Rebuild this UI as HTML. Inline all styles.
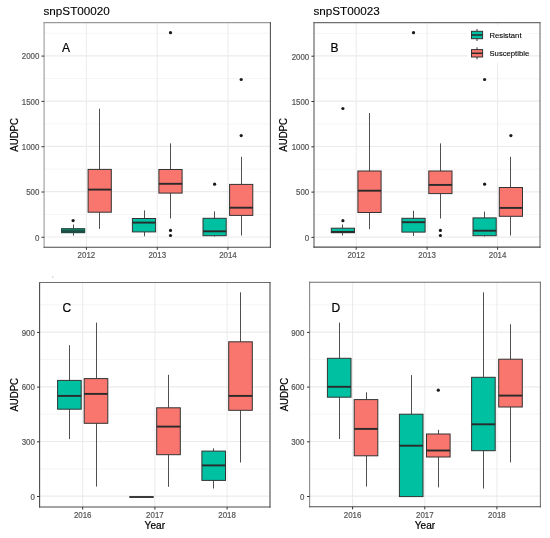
<!DOCTYPE html><html><head><meta charset="utf-8"><title>AUDPC boxplots</title><style>html,body{margin:0;padding:0;background:#fff;}svg{display:block;font-family:"Liberation Sans",Arial,sans-serif;}</style></head><body>
<svg width="550" height="538" viewBox="0 0 550 538">
<rect x="0" y="0" width="550" height="538" fill="#fff"/>
<g>
<line x1="44.1" y1="214.45" x2="270.4" y2="214.45" stroke="#f4f4f4" stroke-width="0.9"/>
<line x1="44.1" y1="169.15" x2="270.4" y2="169.15" stroke="#f4f4f4" stroke-width="0.9"/>
<line x1="44.1" y1="123.85" x2="270.4" y2="123.85" stroke="#f4f4f4" stroke-width="0.9"/>
<line x1="44.1" y1="78.55" x2="270.4" y2="78.55" stroke="#f4f4f4" stroke-width="0.9"/>
<line x1="44.1" y1="33.25" x2="270.4" y2="33.25" stroke="#f4f4f4" stroke-width="0.9"/>
<line x1="44.1" y1="237" x2="270.4" y2="237" stroke="#ebebeb" stroke-width="1.2"/>
<line x1="44.1" y1="191.7" x2="270.4" y2="191.7" stroke="#ebebeb" stroke-width="1.2"/>
<line x1="44.1" y1="146.4" x2="270.4" y2="146.4" stroke="#ebebeb" stroke-width="1.2"/>
<line x1="44.1" y1="101.1" x2="270.4" y2="101.1" stroke="#ebebeb" stroke-width="1.2"/>
<line x1="44.1" y1="55.8" x2="270.4" y2="55.8" stroke="#ebebeb" stroke-width="1.2"/>
<line x1="86.4" y1="22.6" x2="86.4" y2="247.2" stroke="#ebebeb" stroke-width="1"/>
<line x1="157.25" y1="22.6" x2="157.25" y2="247.2" stroke="#ebebeb" stroke-width="1"/>
<line x1="227.95" y1="22.6" x2="227.95" y2="247.2" stroke="#ebebeb" stroke-width="1"/>
<line x1="73.5" y1="224.5" x2="73.5" y2="228.6" stroke="#505050" stroke-width="1"/>
<line x1="73.5" y1="232.7" x2="73.5" y2="235.6" stroke="#505050" stroke-width="1"/>
<rect x="61" y="228.1" width="24.2" height="5.1" fill="#1e4c42"/>
<rect x="61.8" y="229" width="22.6" height="1.3" fill="#13775d"/>
<circle cx="73.1" cy="220.6" r="1.6" fill="#1a1a1a"/>
<line x1="99.5" y1="108.7" x2="99.5" y2="169.4" stroke="#505050" stroke-width="1"/>
<line x1="99.5" y1="212.2" x2="99.5" y2="228.9" stroke="#505050" stroke-width="1"/>
<rect x="88.1" y="169.4" width="23.2" height="42.8" fill="#f8766d" stroke="#333333" stroke-width="1"/>
<line x1="88.1" y1="189.6" x2="111.3" y2="189.6" stroke="#2a2a2a" stroke-width="1.9"/>
<line x1="144.5" y1="210.4" x2="144.5" y2="218.5" stroke="#505050" stroke-width="1"/>
<line x1="144.5" y1="231.9" x2="144.5" y2="236.3" stroke="#505050" stroke-width="1"/>
<rect x="132.4" y="218.5" width="23.2" height="13.4" fill="#00c0a2" stroke="#333333" stroke-width="1"/>
<line x1="132.4" y1="222.6" x2="155.6" y2="222.6" stroke="#2a2a2a" stroke-width="1.9"/>
<line x1="170.5" y1="143.4" x2="170.5" y2="169.5" stroke="#505050" stroke-width="1"/>
<line x1="170.5" y1="193.1" x2="170.5" y2="218.5" stroke="#505050" stroke-width="1"/>
<rect x="158.9" y="169.5" width="23.2" height="23.6" fill="#f8766d" stroke="#333333" stroke-width="1"/>
<line x1="158.9" y1="183.8" x2="182.1" y2="183.8" stroke="#2a2a2a" stroke-width="1.9"/>
<circle cx="170.5" cy="230.4" r="1.6" fill="#1a1a1a"/>
<circle cx="170.5" cy="235.5" r="1.6" fill="#1a1a1a"/>
<circle cx="170.5" cy="32.7" r="1.6" fill="#1a1a1a"/>
<line x1="214.5" y1="211.4" x2="214.5" y2="218.3" stroke="#505050" stroke-width="1"/>
<line x1="214.5" y1="235.7" x2="214.5" y2="236.6" stroke="#505050" stroke-width="1"/>
<rect x="203" y="218.3" width="23.2" height="17.4" fill="#00c0a2" stroke="#333333" stroke-width="1"/>
<line x1="203" y1="231.3" x2="226.2" y2="231.3" stroke="#2a2a2a" stroke-width="1.9"/>
<circle cx="214.6" cy="184.2" r="1.6" fill="#1a1a1a"/>
<line x1="241.5" y1="156.8" x2="241.5" y2="184.4" stroke="#505050" stroke-width="1"/>
<line x1="241.5" y1="215.4" x2="241.5" y2="235.5" stroke="#505050" stroke-width="1"/>
<rect x="229.6" y="184.4" width="23.2" height="31" fill="#f8766d" stroke="#333333" stroke-width="1"/>
<line x1="229.6" y1="207.7" x2="252.8" y2="207.7" stroke="#2a2a2a" stroke-width="1.9"/>
<circle cx="241.2" cy="135.6" r="1.6" fill="#1a1a1a"/>
<circle cx="241.2" cy="79.5" r="1.6" fill="#1a1a1a"/>
<line x1="44.1" y1="22.05" x2="44.1" y2="247.75" stroke="#9a9a9a" stroke-width="1.1"/>
<line x1="43.55" y1="22.6" x2="270.95" y2="22.6" stroke="#9a9a9a" stroke-width="1.1"/>
<line x1="270.4" y1="22.05" x2="270.4" y2="247.75" stroke="#555555" stroke-width="1.1"/>
<line x1="43.55" y1="247.2" x2="270.95" y2="247.2" stroke="#4a4a4a" stroke-width="1.1"/>
<line x1="41.5" y1="237.3" x2="44.1" y2="237.3" stroke="#333333" stroke-width="1"/>
<text transform="translate(39.4,240.64) scale(1,1.1)" font-size="7.9" fill="#555555" text-anchor="end" stroke="#555555" stroke-width="0.18">0</text>
<line x1="41.5" y1="192" x2="44.1" y2="192" stroke="#333333" stroke-width="1"/>
<text transform="translate(39.4,195.34) scale(1,1.1)" font-size="7.9" fill="#555555" text-anchor="end" stroke="#555555" stroke-width="0.18">500</text>
<line x1="41.5" y1="146.7" x2="44.1" y2="146.7" stroke="#333333" stroke-width="1"/>
<text transform="translate(39.4,150.04) scale(1,1.1)" font-size="7.9" fill="#555555" text-anchor="end" stroke="#555555" stroke-width="0.18">1000</text>
<line x1="41.5" y1="101.4" x2="44.1" y2="101.4" stroke="#333333" stroke-width="1"/>
<text transform="translate(39.4,104.74) scale(1,1.1)" font-size="7.9" fill="#555555" text-anchor="end" stroke="#555555" stroke-width="0.18">1500</text>
<line x1="41.5" y1="56.1" x2="44.1" y2="56.1" stroke="#333333" stroke-width="1"/>
<text transform="translate(39.4,59.44) scale(1,1.1)" font-size="7.9" fill="#555555" text-anchor="end" stroke="#555555" stroke-width="0.18">2000</text>
<line x1="86.4" y1="247.2" x2="86.4" y2="249.8" stroke="#333333" stroke-width="1"/>
<text transform="translate(86.4,258.1) scale(1,1.1)" font-size="7.9" fill="#555555" text-anchor="middle" stroke="#555555" stroke-width="0.18">2012</text>
<line x1="157.25" y1="247.2" x2="157.25" y2="249.8" stroke="#333333" stroke-width="1"/>
<text transform="translate(157.25,258.1) scale(1,1.1)" font-size="7.9" fill="#555555" text-anchor="middle" stroke="#555555" stroke-width="0.18">2013</text>
<line x1="227.95" y1="247.2" x2="227.95" y2="249.8" stroke="#333333" stroke-width="1"/>
<text transform="translate(227.95,258.1) scale(1,1.1)" font-size="7.9" fill="#555555" text-anchor="middle" stroke="#555555" stroke-width="0.18">2014</text>
<text transform="translate(17.5,134.9) rotate(-90) scale(1,1.05)" font-size="9.6" fill="#000" text-anchor="middle" stroke="#000" stroke-width="0.2">AUDPC</text>
<text transform="translate(43.5,15.2)" font-size="11.7" fill="#000" stroke="#000" stroke-width="0.12">snpST00020</text>
<text transform="translate(62,52)" font-size="12" fill="#000" stroke="#000" stroke-width="0.2">A</text>
</g>
<g>
<line x1="314" y1="214.55" x2="540" y2="214.55" stroke="#f4f4f4" stroke-width="0.9"/>
<line x1="314" y1="169.25" x2="540" y2="169.25" stroke="#f4f4f4" stroke-width="0.9"/>
<line x1="314" y1="123.95" x2="540" y2="123.95" stroke="#f4f4f4" stroke-width="0.9"/>
<line x1="314" y1="78.65" x2="540" y2="78.65" stroke="#f4f4f4" stroke-width="0.9"/>
<line x1="314" y1="33.35" x2="540" y2="33.35" stroke="#f4f4f4" stroke-width="0.9"/>
<line x1="314" y1="237.1" x2="540" y2="237.1" stroke="#ebebeb" stroke-width="1.2"/>
<line x1="314" y1="191.8" x2="540" y2="191.8" stroke="#ebebeb" stroke-width="1.2"/>
<line x1="314" y1="146.5" x2="540" y2="146.5" stroke="#ebebeb" stroke-width="1.2"/>
<line x1="314" y1="101.2" x2="540" y2="101.2" stroke="#ebebeb" stroke-width="1.2"/>
<line x1="314" y1="55.9" x2="540" y2="55.9" stroke="#ebebeb" stroke-width="1.2"/>
<line x1="356.2" y1="22.6" x2="356.2" y2="247.1" stroke="#ebebeb" stroke-width="1"/>
<line x1="427.1" y1="22.6" x2="427.1" y2="247.1" stroke="#ebebeb" stroke-width="1"/>
<line x1="497.6" y1="22.6" x2="497.6" y2="247.1" stroke="#ebebeb" stroke-width="1"/>
<rect x="467.5" y="25.5" width="60" height="37" fill="#fff"/>
<line x1="342.5" y1="224.5" x2="342.5" y2="228.2" stroke="#505050" stroke-width="1"/>
<line x1="342.5" y1="232.7" x2="342.5" y2="235.5" stroke="#505050" stroke-width="1"/>
<rect x="331.3" y="228.2" width="23.2" height="4.5" fill="#00c0a2" stroke="#333333" stroke-width="1"/>
<line x1="331.3" y1="231.9" x2="354.5" y2="231.9" stroke="#2a2a2a" stroke-width="1.9"/>
<circle cx="342.9" cy="220.7" r="1.6" fill="#1a1a1a"/>
<circle cx="342.9" cy="108.5" r="1.6" fill="#1a1a1a"/>
<line x1="369.5" y1="113" x2="369.5" y2="171" stroke="#505050" stroke-width="1"/>
<line x1="369.5" y1="212.5" x2="369.5" y2="229.2" stroke="#505050" stroke-width="1"/>
<rect x="357.9" y="171" width="23.2" height="41.5" fill="#f8766d" stroke="#333333" stroke-width="1"/>
<line x1="357.9" y1="190.7" x2="381.1" y2="190.7" stroke="#2a2a2a" stroke-width="1.9"/>
<line x1="413.5" y1="210.7" x2="413.5" y2="218.3" stroke="#505050" stroke-width="1"/>
<line x1="413.5" y1="232.1" x2="413.5" y2="236" stroke="#505050" stroke-width="1"/>
<rect x="401.9" y="218.3" width="23.2" height="13.8" fill="#00c0a2" stroke="#333333" stroke-width="1"/>
<line x1="401.9" y1="222.2" x2="425.1" y2="222.2" stroke="#2a2a2a" stroke-width="1.9"/>
<circle cx="413.5" cy="32.7" r="1.6" fill="#1a1a1a"/>
<line x1="440.5" y1="143.4" x2="440.5" y2="171" stroke="#505050" stroke-width="1"/>
<line x1="440.5" y1="193.6" x2="440.5" y2="218.5" stroke="#505050" stroke-width="1"/>
<rect x="428.8" y="171" width="23.2" height="22.6" fill="#f8766d" stroke="#333333" stroke-width="1"/>
<line x1="428.8" y1="184.9" x2="452" y2="184.9" stroke="#2a2a2a" stroke-width="1.9"/>
<circle cx="440.4" cy="230.4" r="1.6" fill="#1a1a1a"/>
<circle cx="440.4" cy="235.5" r="1.6" fill="#1a1a1a"/>
<line x1="484.5" y1="211.6" x2="484.5" y2="217.9" stroke="#505050" stroke-width="1"/>
<line x1="484.5" y1="235.7" x2="484.5" y2="236.5" stroke="#505050" stroke-width="1"/>
<rect x="473" y="217.9" width="23.2" height="17.8" fill="#00c0a2" stroke="#333333" stroke-width="1"/>
<line x1="473" y1="230.7" x2="496.2" y2="230.7" stroke="#2a2a2a" stroke-width="1.9"/>
<circle cx="484.6" cy="184.2" r="1.6" fill="#1a1a1a"/>
<circle cx="484.6" cy="79.5" r="1.6" fill="#1a1a1a"/>
<line x1="510.5" y1="156.8" x2="510.5" y2="187.5" stroke="#505050" stroke-width="1"/>
<line x1="510.5" y1="216.3" x2="510.5" y2="235.5" stroke="#505050" stroke-width="1"/>
<rect x="499.3" y="187.5" width="23.2" height="28.8" fill="#f8766d" stroke="#333333" stroke-width="1"/>
<line x1="499.3" y1="207.9" x2="522.5" y2="207.9" stroke="#2a2a2a" stroke-width="1.9"/>
<circle cx="510.9" cy="135.6" r="1.6" fill="#1a1a1a"/>
<line x1="314" y1="22.05" x2="314" y2="247.65" stroke="#5a5a5a" stroke-width="1.1"/>
<line x1="313.45" y1="22.6" x2="540.55" y2="22.6" stroke="#6e6e6e" stroke-width="1.1"/>
<line x1="540" y1="22.05" x2="540" y2="247.65" stroke="#6e6e6e" stroke-width="1.1"/>
<line x1="313.45" y1="247.1" x2="540.55" y2="247.1" stroke="#4a4a4a" stroke-width="1.1"/>
<line x1="311.4" y1="237.4" x2="314" y2="237.4" stroke="#333333" stroke-width="1"/>
<text transform="translate(309.2,240.74) scale(1,1.1)" font-size="7.9" fill="#555555" text-anchor="end" stroke="#555555" stroke-width="0.18">0</text>
<line x1="311.4" y1="192.1" x2="314" y2="192.1" stroke="#333333" stroke-width="1"/>
<text transform="translate(309.2,195.44) scale(1,1.1)" font-size="7.9" fill="#555555" text-anchor="end" stroke="#555555" stroke-width="0.18">500</text>
<line x1="311.4" y1="146.8" x2="314" y2="146.8" stroke="#333333" stroke-width="1"/>
<text transform="translate(309.2,150.14) scale(1,1.1)" font-size="7.9" fill="#555555" text-anchor="end" stroke="#555555" stroke-width="0.18">1000</text>
<line x1="311.4" y1="101.5" x2="314" y2="101.5" stroke="#333333" stroke-width="1"/>
<text transform="translate(309.2,104.84) scale(1,1.1)" font-size="7.9" fill="#555555" text-anchor="end" stroke="#555555" stroke-width="0.18">1500</text>
<line x1="311.4" y1="56.2" x2="314" y2="56.2" stroke="#333333" stroke-width="1"/>
<text transform="translate(309.2,59.54) scale(1,1.1)" font-size="7.9" fill="#555555" text-anchor="end" stroke="#555555" stroke-width="0.18">2000</text>
<line x1="356.2" y1="247.1" x2="356.2" y2="249.7" stroke="#333333" stroke-width="1"/>
<text transform="translate(356.2,258) scale(1,1.1)" font-size="7.9" fill="#555555" text-anchor="middle" stroke="#555555" stroke-width="0.18">2012</text>
<line x1="427.1" y1="247.1" x2="427.1" y2="249.7" stroke="#333333" stroke-width="1"/>
<text transform="translate(427.1,258) scale(1,1.1)" font-size="7.9" fill="#555555" text-anchor="middle" stroke="#555555" stroke-width="0.18">2013</text>
<line x1="497.6" y1="247.1" x2="497.6" y2="249.7" stroke="#333333" stroke-width="1"/>
<text transform="translate(497.6,258) scale(1,1.1)" font-size="7.9" fill="#555555" text-anchor="middle" stroke="#555555" stroke-width="0.18">2014</text>
<text transform="translate(287.4,134.85) rotate(-90) scale(1,1.05)" font-size="9.6" fill="#000" text-anchor="middle" stroke="#000" stroke-width="0.2">AUDPC</text>
<text transform="translate(313.4,15.2)" font-size="11.7" fill="#000" stroke="#000" stroke-width="0.12">snpST00023</text>
<text transform="translate(330.5,52.4)" font-size="12" fill="#000" stroke="#000" stroke-width="0.2">B</text>
<line x1="477" y1="29" x2="477" y2="41" stroke="#333333" stroke-width="1"/>
<rect x="471.5" y="31.3" width="11.1" height="7.4" fill="#00c0a2" stroke="#333333" stroke-width="1"/>
<line x1="471.5" y1="35" x2="482.6" y2="35" stroke="#2a2a2a" stroke-width="1.5"/>
<text transform="translate(489.5,37.9) scale(1,1.05)" font-size="7.7" fill="#000" stroke="#000" stroke-width="0.1">Resistant</text>
<line x1="477" y1="47.3" x2="477" y2="59.3" stroke="#333333" stroke-width="1"/>
<rect x="471.5" y="49.6" width="11.1" height="7.4" fill="#f8766d" stroke="#333333" stroke-width="1"/>
<line x1="471.5" y1="53.3" x2="482.6" y2="53.3" stroke="#2a2a2a" stroke-width="1.5"/>
<text transform="translate(489.5,56.2) scale(1,1.05)" font-size="7.7" fill="#000" stroke="#000" stroke-width="0.1">Susceptible</text>
</g>
<g>
<line x1="39.6" y1="468.95" x2="270" y2="468.95" stroke="#f4f4f4" stroke-width="0.9"/>
<line x1="39.6" y1="414.25" x2="270" y2="414.25" stroke="#f4f4f4" stroke-width="0.9"/>
<line x1="39.6" y1="359.55" x2="270" y2="359.55" stroke="#f4f4f4" stroke-width="0.9"/>
<line x1="39.6" y1="304.85" x2="270" y2="304.85" stroke="#f4f4f4" stroke-width="0.9"/>
<line x1="39.6" y1="496.2" x2="270" y2="496.2" stroke="#ebebeb" stroke-width="1.2"/>
<line x1="39.6" y1="441.5" x2="270" y2="441.5" stroke="#ebebeb" stroke-width="1.2"/>
<line x1="39.6" y1="386.8" x2="270" y2="386.8" stroke="#ebebeb" stroke-width="1.2"/>
<line x1="39.6" y1="332.1" x2="270" y2="332.1" stroke="#ebebeb" stroke-width="1.2"/>
<line x1="82.7" y1="282.5" x2="82.7" y2="507" stroke="#ebebeb" stroke-width="1"/>
<line x1="154.9" y1="282.5" x2="154.9" y2="507" stroke="#ebebeb" stroke-width="1"/>
<line x1="227.1" y1="282.5" x2="227.1" y2="507" stroke="#ebebeb" stroke-width="1"/>
<line x1="69.5" y1="345.2" x2="69.5" y2="380.4" stroke="#505050" stroke-width="1"/>
<line x1="69.5" y1="409.2" x2="69.5" y2="439.1" stroke="#505050" stroke-width="1"/>
<rect x="57.6" y="380.4" width="23.6" height="28.8" fill="#00c0a2" stroke="#333333" stroke-width="1"/>
<line x1="57.6" y1="395.9" x2="81.2" y2="395.9" stroke="#2a2a2a" stroke-width="1.9"/>
<line x1="96.5" y1="322.6" x2="96.5" y2="378.6" stroke="#505050" stroke-width="1"/>
<line x1="96.5" y1="423.3" x2="96.5" y2="486.6" stroke="#505050" stroke-width="1"/>
<rect x="84.2" y="378.6" width="23.6" height="44.7" fill="#f8766d" stroke="#333333" stroke-width="1"/>
<line x1="84.2" y1="393.9" x2="107.8" y2="393.9" stroke="#2a2a2a" stroke-width="1.9"/>
<line x1="129.3" y1="497" x2="153.7" y2="497" stroke="#3a3a3a" stroke-width="2"/>
<line x1="168.5" y1="374.8" x2="168.5" y2="407.8" stroke="#505050" stroke-width="1"/>
<line x1="168.5" y1="454.7" x2="168.5" y2="486.8" stroke="#505050" stroke-width="1"/>
<rect x="156.7" y="407.8" width="23.6" height="46.9" fill="#f8766d" stroke="#333333" stroke-width="1"/>
<line x1="156.7" y1="426.6" x2="180.3" y2="426.6" stroke="#2a2a2a" stroke-width="1.9"/>
<line x1="213.5" y1="448.3" x2="213.5" y2="451.1" stroke="#505050" stroke-width="1"/>
<line x1="213.5" y1="480.4" x2="213.5" y2="488.5" stroke="#505050" stroke-width="1"/>
<rect x="201.9" y="451.1" width="23.6" height="29.3" fill="#00c0a2" stroke="#333333" stroke-width="1"/>
<line x1="201.9" y1="465.4" x2="225.5" y2="465.4" stroke="#2a2a2a" stroke-width="1.9"/>
<line x1="240.5" y1="292.3" x2="240.5" y2="341.8" stroke="#505050" stroke-width="1"/>
<line x1="240.5" y1="410.3" x2="240.5" y2="462.5" stroke="#505050" stroke-width="1"/>
<rect x="228.7" y="341.8" width="23.6" height="68.5" fill="#f8766d" stroke="#333333" stroke-width="1"/>
<line x1="228.7" y1="395.9" x2="252.3" y2="395.9" stroke="#2a2a2a" stroke-width="1.9"/>
<line x1="39.6" y1="281.95" x2="39.6" y2="507.55" stroke="#4a4a4a" stroke-width="1.1"/>
<line x1="39.05" y1="282.5" x2="270.55" y2="282.5" stroke="#6e6e6e" stroke-width="1.1"/>
<line x1="270" y1="281.95" x2="270" y2="507.55" stroke="#4a4a4a" stroke-width="1.1"/>
<line x1="39.05" y1="507" x2="270.55" y2="507" stroke="#4a4a4a" stroke-width="1.1"/>
<line x1="37" y1="496.5" x2="39.6" y2="496.5" stroke="#333333" stroke-width="1"/>
<text transform="translate(34.8,499.84) scale(1,1.1)" font-size="7.9" fill="#555555" text-anchor="end" stroke="#555555" stroke-width="0.18">0</text>
<line x1="37" y1="441.8" x2="39.6" y2="441.8" stroke="#333333" stroke-width="1"/>
<text transform="translate(34.8,445.14) scale(1,1.1)" font-size="7.9" fill="#555555" text-anchor="end" stroke="#555555" stroke-width="0.18">300</text>
<line x1="37" y1="387.1" x2="39.6" y2="387.1" stroke="#333333" stroke-width="1"/>
<text transform="translate(34.8,390.44) scale(1,1.1)" font-size="7.9" fill="#555555" text-anchor="end" stroke="#555555" stroke-width="0.18">600</text>
<line x1="37" y1="332.4" x2="39.6" y2="332.4" stroke="#333333" stroke-width="1"/>
<text transform="translate(34.8,335.74) scale(1,1.1)" font-size="7.9" fill="#555555" text-anchor="end" stroke="#555555" stroke-width="0.18">900</text>
<line x1="82.7" y1="507" x2="82.7" y2="509.6" stroke="#333333" stroke-width="1"/>
<text transform="translate(82.7,517.9) scale(1,1.1)" font-size="7.9" fill="#555555" text-anchor="middle" stroke="#555555" stroke-width="0.18">2016</text>
<line x1="154.9" y1="507" x2="154.9" y2="509.6" stroke="#333333" stroke-width="1"/>
<text transform="translate(154.9,517.9) scale(1,1.1)" font-size="7.9" fill="#555555" text-anchor="middle" stroke="#555555" stroke-width="0.18">2017</text>
<line x1="227.1" y1="507" x2="227.1" y2="509.6" stroke="#333333" stroke-width="1"/>
<text transform="translate(227.1,517.9) scale(1,1.1)" font-size="7.9" fill="#555555" text-anchor="middle" stroke="#555555" stroke-width="0.18">2018</text>
<text transform="translate(17.5,394.75) rotate(-90) scale(1,1.05)" font-size="9.6" fill="#000" text-anchor="middle" stroke="#000" stroke-width="0.2">AUDPC</text>
<text transform="translate(154.8,528.6)" font-size="10.1" fill="#000" text-anchor="middle" stroke="#000" stroke-width="0.2">Year</text>
<text transform="translate(62.4,312)" font-size="12" fill="#000" stroke="#000" stroke-width="0.2">C</text>
</g>
<g>
<line x1="309.6" y1="468.95" x2="540.4" y2="468.95" stroke="#f4f4f4" stroke-width="0.9"/>
<line x1="309.6" y1="414.25" x2="540.4" y2="414.25" stroke="#f4f4f4" stroke-width="0.9"/>
<line x1="309.6" y1="359.55" x2="540.4" y2="359.55" stroke="#f4f4f4" stroke-width="0.9"/>
<line x1="309.6" y1="304.85" x2="540.4" y2="304.85" stroke="#f4f4f4" stroke-width="0.9"/>
<line x1="309.6" y1="496.2" x2="540.4" y2="496.2" stroke="#ebebeb" stroke-width="1.2"/>
<line x1="309.6" y1="441.5" x2="540.4" y2="441.5" stroke="#ebebeb" stroke-width="1.2"/>
<line x1="309.6" y1="386.8" x2="540.4" y2="386.8" stroke="#ebebeb" stroke-width="1.2"/>
<line x1="309.6" y1="332.1" x2="540.4" y2="332.1" stroke="#ebebeb" stroke-width="1.2"/>
<line x1="352.6" y1="282.3" x2="352.6" y2="506.8" stroke="#ebebeb" stroke-width="1"/>
<line x1="424.8" y1="282.3" x2="424.8" y2="506.8" stroke="#ebebeb" stroke-width="1"/>
<line x1="496.9" y1="282.3" x2="496.9" y2="506.8" stroke="#ebebeb" stroke-width="1"/>
<line x1="339.5" y1="322.6" x2="339.5" y2="358.3" stroke="#505050" stroke-width="1"/>
<line x1="339.5" y1="397.2" x2="339.5" y2="439.1" stroke="#505050" stroke-width="1"/>
<rect x="327.4" y="358.3" width="23.6" height="38.9" fill="#00c0a2" stroke="#333333" stroke-width="1"/>
<line x1="327.4" y1="386.8" x2="351" y2="386.8" stroke="#2a2a2a" stroke-width="1.9"/>
<line x1="366.5" y1="392.3" x2="366.5" y2="399.6" stroke="#505050" stroke-width="1"/>
<line x1="366.5" y1="455.8" x2="366.5" y2="486.6" stroke="#505050" stroke-width="1"/>
<rect x="354.2" y="399.6" width="23.6" height="56.2" fill="#f8766d" stroke="#333333" stroke-width="1"/>
<line x1="354.2" y1="428.9" x2="377.8" y2="428.9" stroke="#2a2a2a" stroke-width="1.9"/>
<line x1="411.5" y1="375.1" x2="411.5" y2="414.2" stroke="#505050" stroke-width="1"/>
<line x1="411.5" y1="496.6" x2="411.5" y2="496.6" stroke="#505050" stroke-width="1"/>
<rect x="399.4" y="414.2" width="23.6" height="82.4" fill="#00c0a2" stroke="#333333" stroke-width="1"/>
<line x1="399.4" y1="445.7" x2="423" y2="445.7" stroke="#2a2a2a" stroke-width="1.9"/>
<line x1="438.5" y1="429.8" x2="438.5" y2="434" stroke="#505050" stroke-width="1"/>
<line x1="438.5" y1="457" x2="438.5" y2="487.4" stroke="#505050" stroke-width="1"/>
<rect x="426.5" y="434" width="23.6" height="23" fill="#f8766d" stroke="#333333" stroke-width="1"/>
<line x1="426.5" y1="450.5" x2="450.1" y2="450.5" stroke="#2a2a2a" stroke-width="1.9"/>
<circle cx="438.3" cy="390.2" r="1.6" fill="#1a1a1a"/>
<line x1="483.5" y1="292.3" x2="483.5" y2="377.3" stroke="#505050" stroke-width="1"/>
<line x1="483.5" y1="450.7" x2="483.5" y2="488.5" stroke="#505050" stroke-width="1"/>
<rect x="471.6" y="377.3" width="23.6" height="73.4" fill="#00c0a2" stroke="#333333" stroke-width="1"/>
<line x1="471.6" y1="424.3" x2="495.2" y2="424.3" stroke="#2a2a2a" stroke-width="1.9"/>
<line x1="510.5" y1="324.2" x2="510.5" y2="359.2" stroke="#505050" stroke-width="1"/>
<line x1="510.5" y1="407" x2="510.5" y2="462.4" stroke="#505050" stroke-width="1"/>
<rect x="498.7" y="359.2" width="23.6" height="47.8" fill="#f8766d" stroke="#333333" stroke-width="1"/>
<line x1="498.7" y1="395.6" x2="522.3" y2="395.6" stroke="#2a2a2a" stroke-width="1.9"/>
<line x1="309.6" y1="281.75" x2="309.6" y2="507.35" stroke="#888888" stroke-width="1.1"/>
<line x1="309.05" y1="282.3" x2="540.95" y2="282.3" stroke="#6e6e6e" stroke-width="1.1"/>
<line x1="540.4" y1="281.75" x2="540.4" y2="507.35" stroke="#777777" stroke-width="1.1"/>
<line x1="309.05" y1="506.8" x2="540.95" y2="506.8" stroke="#4a4a4a" stroke-width="1.1"/>
<line x1="307" y1="496.5" x2="309.6" y2="496.5" stroke="#333333" stroke-width="1"/>
<text transform="translate(304.3,499.84) scale(1,1.1)" font-size="7.9" fill="#555555" text-anchor="end" stroke="#555555" stroke-width="0.18">0</text>
<line x1="307" y1="441.8" x2="309.6" y2="441.8" stroke="#333333" stroke-width="1"/>
<text transform="translate(304.3,445.14) scale(1,1.1)" font-size="7.9" fill="#555555" text-anchor="end" stroke="#555555" stroke-width="0.18">300</text>
<line x1="307" y1="387.1" x2="309.6" y2="387.1" stroke="#333333" stroke-width="1"/>
<text transform="translate(304.3,390.44) scale(1,1.1)" font-size="7.9" fill="#555555" text-anchor="end" stroke="#555555" stroke-width="0.18">600</text>
<line x1="307" y1="332.4" x2="309.6" y2="332.4" stroke="#333333" stroke-width="1"/>
<text transform="translate(304.3,335.74) scale(1,1.1)" font-size="7.9" fill="#555555" text-anchor="end" stroke="#555555" stroke-width="0.18">900</text>
<line x1="352.6" y1="506.8" x2="352.6" y2="509.4" stroke="#333333" stroke-width="1"/>
<text transform="translate(352.6,517.7) scale(1,1.1)" font-size="7.9" fill="#555555" text-anchor="middle" stroke="#555555" stroke-width="0.18">2016</text>
<line x1="424.8" y1="506.8" x2="424.8" y2="509.4" stroke="#333333" stroke-width="1"/>
<text transform="translate(424.8,517.7) scale(1,1.1)" font-size="7.9" fill="#555555" text-anchor="middle" stroke="#555555" stroke-width="0.18">2017</text>
<line x1="496.9" y1="506.8" x2="496.9" y2="509.4" stroke="#333333" stroke-width="1"/>
<text transform="translate(496.9,517.7) scale(1,1.1)" font-size="7.9" fill="#555555" text-anchor="middle" stroke="#555555" stroke-width="0.18">2018</text>
<text transform="translate(287.5,394.55) rotate(-90) scale(1,1.05)" font-size="9.6" fill="#000" text-anchor="middle" stroke="#000" stroke-width="0.2">AUDPC</text>
<text transform="translate(425,528.6)" font-size="10.1" fill="#000" text-anchor="middle" stroke="#000" stroke-width="0.2">Year</text>
<text transform="translate(331.4,312)" font-size="12" fill="#000" stroke="#000" stroke-width="0.2">D</text>
</g>
<circle cx="52.7" cy="277" r="0.8" fill="#c8c8c8"/>
</svg></body></html>
